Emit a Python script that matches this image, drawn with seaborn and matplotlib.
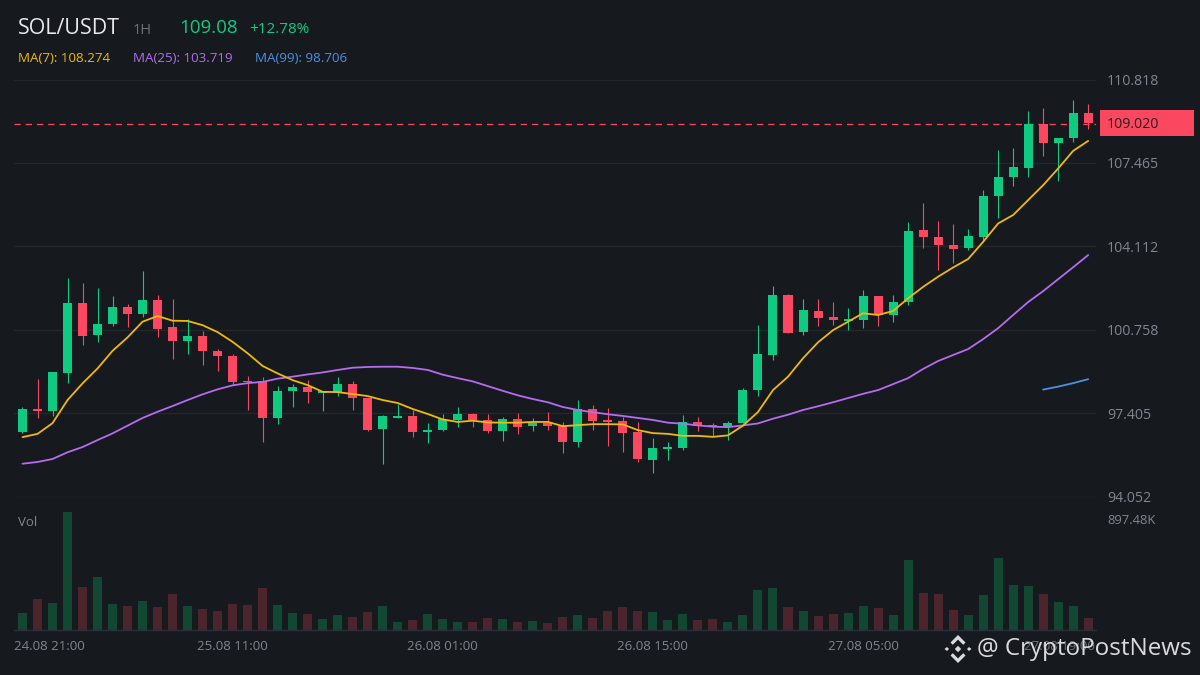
#### SOL/USDT 1H candles with MA lines and volume

import numpy as np
import pandas as pd
import seaborn as sns
import matplotlib.pyplot as plt
from matplotlib.patches import Polygon

# OHLC
opens = [96.64, 97.57, 97.49, 99.02, 101.83, 100.54, 100.99, 101.67, 101.39, 101.95, 100.86, 100.30,
         100.50, 99.90, 99.70, 98.69, 98.69, 97.21, 98.29, 98.45, 98.21, 98.25, 98.57, 98.01,
         96.76, 97.21, 97.29, 96.64, 96.72, 97.13, 97.37, 97.13, 96.68, 97.17, 96.88, 97.01,
         96.88, 96.24, 97.57, 97.13, 97.09, 96.64, 95.52, 95.96, 96.00, 97.05, 96.92, 96.84,
         97.01, 98.33, 99.74, 102.15, 100.66, 101.51, 101.27, 101.11, 101.15, 102.11, 101.35, 101.87,
         104.76, 104.48, 104.16, 104.04, 104.48, 106.13, 106.89, 107.26, 109.03, 108.26, 108.46, 109.47]
highs = [97.65, 98.77, 99.06, 102.83, 102.63, 102.43, 102.11, 101.79, 103.12, 102.15, 101.99, 101.19,
         100.70, 99.98, 99.78, 98.89, 98.85, 98.49, 98.57, 98.73, 98.29, 98.85, 98.69, 98.01,
         97.33, 97.77, 97.53, 97.01, 97.37, 97.65, 97.41, 97.37, 97.25, 97.41, 97.21, 97.45,
         97.05, 97.93, 97.73, 97.61, 97.25, 97.05, 96.40, 96.24, 97.33, 97.25, 97.01, 97.09,
         98.41, 100.94, 102.51, 102.19, 101.99, 101.99, 101.87, 101.63, 102.35, 102.11, 102.15, 105.09,
         105.85, 105.13, 105.01, 104.80, 106.37, 107.98, 108.06, 109.55, 109.67, 108.46, 109.99, 109.83]
lows = [96.60, 97.21, 97.29, 98.61, 100.14, 100.26, 100.90, 100.86, 101.27, 100.46, 99.58, 99.78,
        99.34, 99.10, 98.53, 97.53, 96.24, 96.97, 97.65, 97.81, 97.49, 98.09, 97.53, 96.68,
        95.36, 97.21, 96.44, 96.20, 96.68, 96.84, 96.84, 96.60, 96.28, 96.56, 96.68, 96.72,
        95.80, 96.04, 96.72, 96.08, 95.84, 95.44, 95.00, 95.52, 95.92, 96.68, 96.48, 96.32,
        97.01, 98.09, 99.54, 100.62, 100.54, 100.90, 100.94, 100.74, 100.82, 100.90, 101.07, 101.75,
        104.04, 103.16, 103.44, 103.96, 104.28, 105.25, 106.53, 106.89, 107.74, 106.73, 108.30, 108.82]
closes = [97.57, 97.49, 99.06, 101.83, 100.50, 100.99, 101.67, 101.39, 101.95, 100.78, 100.30, 100.50,
          99.90, 99.70, 98.65, 98.65, 97.21, 98.29, 98.45, 98.25, 98.29, 98.57, 98.01, 96.72,
          97.29, 97.29, 96.64, 96.72, 97.17, 97.37, 97.13, 96.68, 97.17, 96.84, 97.01, 96.88,
          96.24, 97.57, 97.09, 97.05, 96.60, 95.56, 96.00, 96.04, 97.05, 96.88, 96.84, 97.01,
          98.33, 99.78, 102.15, 100.62, 101.55, 101.23, 101.15, 101.19, 102.11, 101.35, 101.87, 104.72,
          104.48, 104.16, 104.00, 104.52, 106.13, 106.89, 107.30, 109.03, 108.26, 108.46, 109.47, 109.07]

# Volume in thousands
volumes = [144, 260, 227, 982, 360, 443, 219, 202, 243, 194, 302, 202,
           177, 160, 219, 210, 351, 210, 144, 136, 94, 127, 111, 152,
           202, 69, 86, 136, 94, 69, 69, 102, 94, 69, 77, 61,
           111, 127, 102, 160, 194, 160, 152, 86, 136, 86, 94, 69,
           127, 335, 351, 194, 160, 119, 136, 144, 202, 185, 127, 584,
           310, 302, 169, 127, 293, 600, 376, 368, 302, 235, 202, 102]

ma7 = [96.44, 96.57, 97.00, 97.93, 98.60, 99.20, 99.91, 100.45, 101.08, 101.31, 101.12, 101.11,
       100.94, 100.66, 100.27, 99.81, 99.30, 99.00, 98.73, 98.53, 98.26, 98.25, 98.17, 98.09,
       97.93, 97.81, 97.57, 97.37, 97.15, 97.05, 97.10, 97.03, 97.02, 97.02, 97.05, 97.05,
       96.88, 96.92, 96.96, 96.96, 96.95, 96.72, 96.60, 96.57, 96.49, 96.49, 96.45, 96.51,
       96.90, 97.45, 98.33, 98.87, 99.61, 100.25, 100.74, 101.08, 101.42, 101.35, 101.51, 102.02,
       102.48, 102.89, 103.26, 103.60, 104.29, 105.03, 105.37, 105.97, 106.57, 107.24, 107.95, 108.35]
ma25 = [95.37, 95.44, 95.56, 95.83, 96.04, 96.32, 96.59, 96.90, 97.21, 97.46, 97.69, 97.93,
        98.16, 98.36, 98.52, 98.61, 98.66, 98.79, 98.87, 98.96, 99.04, 99.14, 99.23, 99.26,
        99.27, 99.27, 99.22, 99.14, 98.95, 98.81, 98.68, 98.49, 98.30, 98.12, 97.97, 97.84,
        97.65, 97.53, 97.44, 97.36, 97.29, 97.21, 97.13, 97.02, 96.98, 96.91, 96.86, 96.84,
        96.91, 96.99, 97.18, 97.34, 97.53, 97.68, 97.84, 98.01, 98.18, 98.33, 98.57, 98.81,
        99.18, 99.50, 99.74, 99.98, 100.38, 100.82, 101.35, 101.87, 102.31, 102.79, 103.27, 103.76]
# MA(99) only shows for the last candles
ma99 = [98.35, 98.47, 98.61, 98.77]

price_ticks = [94.052, 97.405, 100.758, 104.112, 107.465, 110.818]
last_price = 109.02
date_positions = [14, 28, 42, 56]
date_labels = ["25.08 11:00", "26.08 01:00", "26.08 15:00", "27.08 05:00"]

BG = "#161A1F"
GRID = "#24272C"
AXIS = "#2B2F36"
TEXT = "#7F8690"
GREEN = "#0ECB81"
RED = "#FB4760"
DIM_GREEN = "#124732"
DIM_RED = "#4C242B"
YELLOW = "#F0B90B"
PURPLE = "#B56CEE"
BLUE = "#4A90E6"

W, H = 1200, 675


def fx(px):
    return px / W


def fy(py):
    return 1 - py / H


def axes_at(left, top, right, bottom):
    return fig.add_axes([fx(left), fy(bottom), (right - left) / W, (bottom - top) / H])


sns.set_style("dark", {"axes.facecolor": BG, "figure.facecolor": BG})
plt.rcParams["font.family"] = ["Open Sans", "DejaVu Sans"]

candles = pd.DataFrame({"open": opens, "high": highs, "low": lows, "close": closes, "volume": volumes})
candles["idx"] = np.arange(len(candles))
candles["side"] = np.where(candles["close"] >= candles["open"], "up", "down")
candles["ma7"] = ma7
candles["ma25"] = ma25

fig = plt.figure(figsize=(W / 100, H / 100), dpi=100, facecolor=BG)
ax = axes_at(14, 79.5, 1096, 496.5)
ax_vol = axes_at(14, 510, 1096, 630)

xlim = (-0.566, 71.52)

# Candles
colors = candles["side"].map({"up": GREEN, "down": RED})
ax.vlines(candles["idx"], candles["low"], candles["high"], colors=colors, linewidth=0.8, zorder=3)
ax.bar(candles["idx"], (candles["close"] - candles["open"]).abs(),
       bottom=candles[["open", "close"]].min(axis=1), width=0.6, color=colors, linewidth=0, zorder=3)

# Moving averages
sns.lineplot(data=candles, x="idx", y="ma25", ax=ax, color=PURPLE, linewidth=1.3, zorder=4)
sns.lineplot(data=candles, x="idx", y="ma7", ax=ax, color=YELLOW, linewidth=1.3, zorder=5)
sns.lineplot(x=candles["idx"].iloc[-4:], y=ma99, ax=ax, color=BLUE, linewidth=1.3, zorder=4)

ax.axhline(last_price, color=RED, linewidth=0.9, dashes=(5, 4), zorder=2)

ax.set_xlim(xlim)
ax.set_ylim(price_ticks[0], price_ticks[-1])
ax.set_xticks([])
ax.set_yticks(price_ticks)
ax.set_yticklabels([f"{t:.3f}" for t in price_ticks])
ax.yaxis.tick_right()
ax.tick_params(axis="y", length=0, pad=8, labelsize=10.2, labelcolor=TEXT)
ax.grid(axis="y", color=GRID, linewidth=1.0)
ax.grid(axis="x", visible=False)
ax.set_xlabel("")
ax.set_ylabel("")
sns.despine(ax=ax, left=True, bottom=True, right=True, top=True)

# Volume
sns.barplot(data=candles, x="idx", y="volume", hue="side", ax=ax_vol, native_scale=True, dodge=False,
            palette={"up": DIM_GREEN, "down": DIM_RED}, width=0.6, saturation=1, legend=False,
            linewidth=0)
ax_vol.set_xlim(xlim)
ax_vol.set_ylim(0, 1000)
ax_vol.set_xticks(date_positions)
ax_vol.set_xticklabels(date_labels)
ax_vol.tick_params(axis="x", length=0, pad=7.5, labelsize=9.5, labelcolor=TEXT)
ax_vol.set_yticks([])
ax_vol.grid(False)
ax_vol.set_xlabel("")
ax_vol.set_ylabel("")
sns.despine(ax=ax_vol, left=True, right=True, top=True)
ax_vol.spines["bottom"].set_color(AXIS)
ax_vol.spines["bottom"].set_linewidth(1.0)

# Dates clamped to the plot edges
fig.text(fx(14), fy(646), "24.08 21:00", color=TEXT, fontsize=9.5, ha="left", va="center")
fig.text(fx(1095), fy(646), "27.08 19:00", color=TEXT, fontsize=9.5, ha="right", va="center", alpha=0.8)

# Header
fig.text(fx(18), fy(28), "SOL/USDT", color="#E8EAED", fontsize=15.4, va="center")
fig.text(fx(133), fy(30), "1H", color="#6C727B", fontsize=10.5, va="center")
fig.text(fx(179), fy(28), "109.08", color=GREEN, fontsize=13.5, va="center")
fig.text(fx(249), fy(29.5), "+12.78%", color=GREEN, fontsize=11, va="center")
fig.text(fx(18), fy(58), "MA(7): 108.274", color=YELLOW, fontsize=9.6, va="center")
fig.text(fx(133), fy(58), "MA(25): 103.719", color=PURPLE, fontsize=9.6, va="center")
fig.text(fx(255), fy(58), "MA(99): 98.706", color=BLUE, fontsize=9.6, va="center")
fig.text(fx(18), fy(523), "Vol", color=TEXT, fontsize=9.5, va="center")
fig.text(fx(1107), fy(521), "897.48K", color=TEXT, fontsize=9.4, va="center")

# Last price tag
ax_tag = axes_at(1100, 110, 1194, 136)
ax_tag.set_facecolor(RED)
ax_tag.set_xticks([])
ax_tag.set_yticks([])
for side in ax_tag.spines.values():
    side.set_visible(False)
fig.text(fx(1107), fy(124), "109.020", color="#2A1A20", fontsize=10.2, va="center")

# Watermark: logo and handle
MARK = "#D9DBDE"
ax_logo = axes_at(944, 635, 972, 663)
ax_logo.set_xlim(-14, 14)
ax_logo.set_ylim(-14, 14)
ax_logo.axis("off")
logo_shapes = [
    [(0, 3.2), (3.2, 0), (0, -3.2), (-3.2, 0)],
    [(-11, 2), (-9, 0), (-11, -2), (-13.5, 0)],
    [(11, 2), (9, 0), (11, -2), (13.5, 0)],
    [(0, 14), (7.5, 6.5), (5.2, 4.2), (0, 9.4), (-5.2, 4.2), (-7.5, 6.5)],
    [(0, -14), (7.5, -6.5), (5.2, -4.2), (0, -9.4), (-5.2, -4.2), (-7.5, -6.5)],
]
for shape in logo_shapes:
    ax_logo.add_patch(Polygon(shape, closed=True, color=MARK, linewidth=0))
fig.text(fx(977), fy(649), "@ CryptoPostNews", color=MARK, fontsize=17.4, va="center", zorder=10)

fig.savefig("out.png", dpi=100, facecolor=BG)
